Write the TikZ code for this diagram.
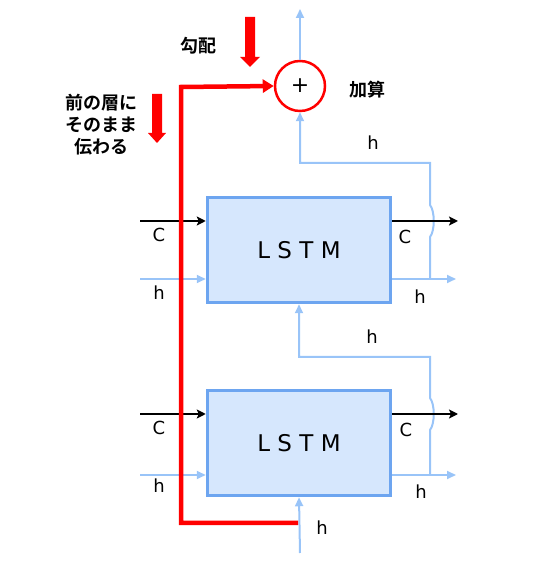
\documentclass[tikz,border=0pt]{standalone}
\usepackage{fontspec}
\setmainfont{DejaVu Sans}
\newfontfamily\jpfont{Noto Sans CJK JP}[BoldFont={* Bold}]
\usepackage{tikz}
\usetikzlibrary{arrows,arrows.meta,shadows,positioning}
\definecolor{hblue}{HTML}{99C4F8}
\definecolor{boxfill}{HTML}{D6E7FD}
\definecolor{boxline}{HTML}{6DA5F0}
\definecolor{gradred}{HTML}{FF0000}
\tikzset{
	lstm/.style={draw=boxline,line width=3.5pt,fill=boxfill,minimum width=183pt,minimum height=105pt,
		drop shadow={opacity=0.25,shadow xshift=1.5pt,shadow yshift=-1.5pt},
		font=\fontsize{23}{25}\selectfont},
	lbl/.style={font=\fontsize{18}{20}\selectfont,inner sep=0pt},
	jp/.style={font=\jpfont\bfseries\fontsize{18}{22}\selectfont,inner sep=0pt,align=center},
	hline/.style={draw=hblue,line width=2pt,-{Triangle[length=9pt,width=8pt]}},
	cline/.style={draw=black,line width=2.6pt,-{Stealth[length=9pt,width=9pt,inset=2pt]}}
}
\begin{document}
\begin{tikzpicture}
	\useasboundingbox (0pt,0pt) rectangle (556pt,565pt);
	
	\node[lstm] (lstm1) at (299pt,315pt){L S T M};
	\node[lstm] (lstm2) at (299pt,122pt){L S T M};
	\node[draw=gradred,line width=2.5pt,circle,minimum size=50pt,inner sep=0pt,font=\fontsize{22}{24}\selectfont] (sum) at (300pt,479pt){+};
	
	\coordinate (ci1) at (140pt,344pt);
	\coordinate (co1) at (458pt,344pt);
	\coordinate (hi1) at (140pt,286pt);
	\coordinate (ho1) at (456pt,286pt);
	\coordinate (ci2) at (140pt,151pt);
	\coordinate (co2) at (458pt,151pt);
	\coordinate (hi2) at (140pt,90pt);
	\coordinate (ho2) at (456pt,90pt);
	\coordinate (hin) at (300pt,12pt);
	\coordinate (hout) at (300pt,556pt);
	
	% h paths
	\draw[hline] (hin)--(lstm2.south);
	\draw[hline] (hi2)--(lstm2.west|-hi2);
	\draw[hline] (lstm2.east|-ho2)--(ho2);
	\draw[hline] (hi1)--(lstm1.west|-hi1);
	\draw[hline] (lstm1.east|-ho1)--(ho1);
	\draw[hline] (430pt,90pt)--(430pt,135pt) .. controls (435pt,141pt) and (435pt,161pt) .. (430pt,167pt)--(430pt,208pt)--(lstm1.south|-0pt,208pt)--(lstm1.south);
	\draw[hline] (430pt,286pt)--(430pt,328pt) .. controls (435pt,334pt) and (435pt,354pt) .. (430pt,360pt)--(430pt,402pt)--(sum.south|-0pt,402pt)--(sum.south);
	\draw[hline] (sum.north)--(hout);
	
	% C paths
	\draw[cline] (ci1)--(lstm1.west|-ci1);
	\draw[cline] (lstm1.east|-co1)--(co1);
	\draw[cline] (ci2)--(lstm2.west|-ci2);
	\draw[cline] (lstm2.east|-co2)--(co2);
	
	% gradient path
	\draw[draw=gradred,line width=4.5pt,-{Triangle[length=11pt,width=13pt]}] (298pt,42pt)--(181pt,42pt)--(181pt,478pt)--(sum.west);
	\fill[gradred] (245pt,548pt)--++(10pt,0pt)--++(0pt,-40pt)--++(5pt,0pt)--++(-10pt,-10pt)--++(-10pt,10pt)--++(5pt,0pt)--cycle;
	\fill[gradred] (152pt,471pt)--++(10pt,0pt)--++(0pt,-39pt)--++(4pt,0pt)--++(-9pt,-10pt)--++(-9pt,10pt)--++(4pt,0pt)--cycle;
	
	% labels
	\node[lbl] (c1) at (159pt,330pt){C};
	\node[lbl] (h1) at (159pt,272pt){h};
	\node[lbl] (c2) at (405pt,328pt){C};
	\node[lbl] (h2) at (420pt,268pt){h};
	\node[lbl] (h3) at (372pt,228pt){h};
	\node[lbl] (h4) at (373pt,422pt){h};
	\node[lbl] (c3) at (159pt,137pt){C};
	\node[lbl] (h5) at (159pt,79pt){h};
	\node[lbl] (c4) at (406pt,135pt){C};
	\node[lbl] (h6) at (421pt,73pt){h};
	\node[lbl] (h7) at (322pt,37pt){h};
	\node[jp] (j1) at (198pt,519pt){勾配};
	\node[jp] (j2) at (367pt,475pt){加算};
	\node[jp] (j3) at (101pt,440pt){前の層に\\そのまま\\伝わる};
\end{tikzpicture}
\end{document}
